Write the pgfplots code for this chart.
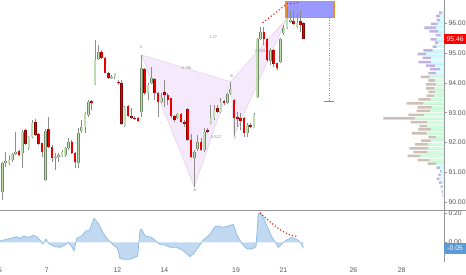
\documentclass[border=0pt]{standalone}
\usepackage{pgfplots}
\pgfplotsset{compat=1.18}
\usepackage{pgfplotstable}
\usepackage{fontspec}
\setmainfont{Liberation Sans}

\definecolor{gfill}{RGB}{190,222,176}
\definecolor{gline}{RGB}{115,135,105}
\definecolor{rfill}{RGB}{235,0,0}
\definecolor{rline}{RGB}{130,0,0}
\definecolor{wick}{RGB}{140,140,140}
\definecolor{lav}{RGB}{244,234,252}
\definecolor{boxfill}{RGB}{153,153,255}
\definecolor{boxline}{RGB}{240,140,40}
\definecolor{vcyan}{RGB}{204,255,255}
\definecolor{vpurp}{RGB}{190,178,225}
\definecolor{vgreen}{RGB}{204,255,221}
\definecolor{vtan}{RGB}{205,192,182}
\definecolor{oscfill}{RGB}{192,216,240}
\definecolor{oscline}{RGB}{140,185,230}
\definecolor{axgray}{RGB}{150,150,150}
\definecolor{txtgray}{RGB}{85,85,85}
\definecolor{tagblue}{RGB}{91,155,213}

\pgfplotstableread{
x o h l c
2.3 90.35 91.36 90.07 91.30
5.6 91.30 91.69 91.19 91.38
8.9 91.32 91.58 91.24 91.41
12.2 91.41 91.64 91.36 91.60
15.5 91.60 92.36 91.58 91.69
18.9 91.71 91.75 91.55 91.58
22.2 91.64 92.42 91.13 92.36
25.5 92.42 92.44 91.92 91.95
28.8 91.80 92.22 91.75 92.19
32.1 92.17 92.75 92.14 92.66
35.4 92.70 92.78 92.22 92.25
38.7 92.27 92.31 91.92 91.95
42.0 91.97 91.99 91.52 91.69
45.3 90.74 92.44 90.72 92.40
48.6 92.45 92.85 91.81 91.84
52.0 91.86 91.92 91.36 91.49
55.3 91.47 91.64 91.08 91.52
58.6 91.50 91.64 91.36 91.58
61.9 91.55 91.75 91.50 91.68
65.2 91.58 91.86 91.52 91.80
68.5 91.80 92.14 91.75 92.02
71.8 92.02 92.08 91.61 91.64
75.1 91.64 91.69 91.13 91.33
78.4 91.32 92.48 91.13 92.31
81.7 92.39 92.75 92.31 92.53
85.1 92.53 93.03 92.31 92.98
88.4 92.92 93.43 92.87 93.37
91.7 93.39 93.43 93.09 93.31
95.0 93.96 95.44 93.93 94.77
98.3 94.79 95.27 94.77 95.05
101.6 95.05 95.10 94.79 94.83
104.9 94.83 94.86 94.32 94.34
108.2 94.34 94.38 94.13 94.17
111.5 94.15 94.27 94.12 94.21
114.8 94.19 94.34 94.12 94.32
118.2 94.04 94.10 93.93 93.99
121.5 93.99 94.10 92.59 92.62
124.8 92.56 93.23 92.53 93.18
128.1 93.22 93.26 92.85 92.89
131.4 92.89 93.15 92.78 92.81
134.7 92.83 92.89 92.75 92.78
138.0 92.81 92.85 92.70 92.73
141.3 93.03 94.94 92.85 94.49
144.6 94.46 94.49 93.59 93.65
147.9 93.65 93.99 93.43 93.93
151.3 93.99 94.54 93.96 94.17
154.6 94.12 94.15 93.43 93.65
157.9 93.65 93.70 92.87 93.37
161.2 93.35 93.65 93.32 93.48
164.5 93.70 94.10 93.20 93.59
167.8 93.59 93.65 93.26 93.43
171.1 93.48 93.50 92.81 92.89
174.4 92.89 92.92 92.70 92.75
177.7 92.81 92.98 92.78 92.95
181.0 92.96 92.98 92.66 92.70
184.4 92.70 92.75 92.53 92.62
187.7 93.11 93.15 92.06 92.08
191.0 92.08 92.28 91.49 91.52
194.3 91.47 91.75 90.52 91.69
197.6 91.78 92.25 91.72 92.02
200.9 92.02 92.14 91.72 91.75
204.2 91.75 92.50 91.69 92.36
207.5 92.42 92.48 92.31 92.34
210.8 92.66 93.26 92.62 92.81
214.1 92.81 93.25 92.75 93.09
217.5 93.17 93.26 92.98 93.03
220.8 93.03 93.48 93.00 93.37
224.1 93.39 93.43 93.26 93.31
227.4 93.34 93.65 93.29 93.63
230.7 93.65 94.04 93.59 93.79
234.0 93.43 93.45 92.22 92.83
237.3 92.85 93.03 92.53 92.79
240.6 92.81 92.98 92.42 92.73
243.9 92.81 92.87 92.20 92.33
247.2 92.31 92.64 92.20 92.59
250.6 92.59 92.64 92.48 92.53
253.9 92.50 92.98 92.48 92.92
257.2 93.52 95.50 93.48 95.46
260.5 95.46 95.89 95.44 95.72
263.8 95.72 95.89 95.27 95.46
267.1 95.46 95.50 94.71 94.77
270.4 94.73 95.16 94.60 95.10
273.7 95.10 95.13 94.54 94.62
277.0 94.66 94.68 94.43 94.49
280.3 94.71 95.50 94.66 95.46
283.7 95.66 95.94 95.61 95.83
287.0 95.83 96.56 95.80 96.17
290.3 96.05 96.45 96.00 96.11
293.6 96.09 96.45 95.94 95.98
296.9 95.89 96.34 95.83 96.02
300.2 96.09 96.45 95.72 95.94
303.5 96.00 96.05 95.46 95.46
}\candles

\pgfplotstableread{
p L D
96.36 2.3 2.7
96.25 4 4
96.11 4 3.3
95.98 6.3 6.7
95.85 8 11.7
95.73 5.7 9
95.60 3.3 5
95.46 7.3 6
95.35 5.7 3.3
95.22 7.3 4
95.09 11.3 9.3
94.97 18 8.3
94.84 13 8.3
94.70 13 12.7
94.58 9 9
94.46 4 10
94.33 8 7.7
91.16 4 3.3
91.04 2.3 1.7
90.91 3.3 2.3
90.78 4.7 2.7
90.65 2.3 2.7
90.52 1.7 1.7
90.35 1.3 1
90.23 1 0.7
}\volout

\pgfplotstableread{
p L D
94.20 14 9.3
94.08 9 6.7
93.95 8 10
93.82 9.7 8.3
93.70 9 6.7
93.57 10 7.3
93.45 13.3 12.3
93.31 20.7 16.7
93.18 12.3 14
93.06 14 13.3
92.93 20 15.7
92.81 29 31.7
92.68 16.7 16.7
92.55 17.3 7.3
92.44 13 12.7
92.31 17.3 15
92.18 8 7.7
92.06 13.3 9.7
91.94 15.7 13.3
91.80 15.7 19
91.68 16.7 14
91.55 24 12.3
91.41 14.7 11.7
91.29 8 8.3
}\volin

\pgfplotstableread{
x v
0 0.010
6.7 0.022
15 0.035
16.7 0.039
20 0.028
23.3 0.044
28.3 0.035
33.3 0.049
36.7 0.039
40 0.017
42.7 -0.010
46 0.022
49.3 -0.010
55 -0.028
60 -0.033
65 -0.017
68.3 -0.001
71.7 -0.028
74 -0.056
76.7 0.028
81.7 0.044
86 0.080
89.3 0.080
94 0.164
98.3 0.130
103.3 0.062
108.3 0.017
113.3 -0.017
117.3 -0.039
120 -0.107
124 -0.114
130 -0.114
135 -0.100
137.7 -0.092
140 0.085
141.7 0.089
145 0.044
151.7 0.035
156.7 0.005
160 -0.014
165 -0.017
170 -0.033
176.7 -0.033
183.3 -0.056
190 -0.096
193.3 -0.078
198.3 -0.033
203.3 0.017
209.3 0.051
215 0.107
218.3 0.112
222.7 0.103
228.3 0.112
233.3 0.123
237.3 0.044
241.7 -0.005
246.7 -0.042
251.7 -0.046
256 -0.028
258.3 0.198
261.7 0.193
266.7 0.119
271.7 0.039
276 -0.005
278.3 -0.033
282.7 -0.005
286.7 0.017
291.7 0.035
296.7 0.022
300.7 -0.001
303.3 -0.039
}\osc

\begin{document}
\begin{tikzpicture}[x=1pt,y=1pt,
  lbl/.style={font=\fontsize{4}{4}\selectfont, text=black!45}]
\useasboundingbox (0,0) rectangle (466,275);

% volume profile
\begin{axis}[at={(0pt,65pt)}, anchor=south west, scale only axis,
  width=444pt, height=210pt, xmin=0, xmax=444, x dir=reverse,
  ymin=89.735, ymax=96.782, hide axis, xbar, bar width=0.085, bar shift=0pt]
\addplot[fill=vpurp, draw=none] table[x expr=\thisrow{L}+\thisrow{D}, y=p] \volout;
\addplot[fill=vcyan, draw=none] table[x=L, y=p] \volout;
\addplot[fill=vtan, draw=none] table[x expr=\thisrow{L}+\thisrow{D}, y=p] \volin;
\addplot[fill=vgreen, draw=none] table[x=L, y=p] \volin;
\end{axis}

% main price panel
\begin{axis}[at={(0pt,65pt)}, anchor=south west, scale only axis,
  width=444pt, height=210pt, xmin=0, xmax=444,
  ymin=89.735, ymax=96.782,
  axis line style={draw=none}, xtick=\empty,
  ytick={90,91,92,93,94,95,96}, ytick pos=right, yticklabel pos=right,
  tick align=outside, major tick length=2.5pt,
  tick style={axgray, line width=0.5pt},
  /pgf/number format/assume math mode=true,
  yticklabel style={font=\fontsize{6.8}{8}\selectfont, text=txtgray, xshift=-1.5pt,
     /pgf/number format/.cd, fixed, fixed zerofill, precision=2}]
% harmonic pattern
\addplot[fill=lav, draw=lav!80!violet, line width=0.3pt] coordinates {(141.3,94.94) (194.3,90.52) (230.7,94.04)} -- cycle;
\addplot[fill=lav, draw=lav!80!violet, line width=0.3pt] coordinates {(230.7,94.04) (234.0,92.22) (287,96.17)} -- cycle;
% target box
\addplot[fill=boxfill, draw=boxline, line width=1.1pt] coordinates {(286,96.18) (334,96.18) (334,96.72) (286,96.72)} -- cycle;
\addplot[black!45, line width=0.6pt, dash pattern=on 1pt off 1.5pt] coordinates {(329,96.18) (329,93.37)};
\addplot[black!45, line width=0.6pt] coordinates {(324,93.37) (334,93.37)};
% wicks
\addplot[draw=none, mark=none, error bars/.cd, y dir=plus, y explicit, error mark=none,
  error bar style={draw=wick, line width=0.7pt}]
  table[x=x, y=l, y error expr=\thisrow{h}-\thisrow{l}] \candles;
% green bodies
\addplot[draw=none, mark=none, restrict expr to domain={\thisrow{c}-\thisrow{o}}{0:100},
  error bars/.cd, y dir=plus, y explicit, error mark=none,
  error bar style={draw=gline, line width=2.6pt}]
  table[x=x, y=o, y error expr=\thisrow{c}-\thisrow{o}] \candles;
\addplot[draw=none, mark=none, restrict expr to domain={\thisrow{c}-\thisrow{o}}{0:100},
  error bars/.cd, y dir=plus, y explicit, error mark=none,
  error bar style={draw=gfill, line width=1.6pt}]
  table[x=x, y=o, y error expr=\thisrow{c}-\thisrow{o}] \candles;
% red bodies
\addplot[draw=none, mark=none, restrict expr to domain={\thisrow{o}-\thisrow{c}}{0.00001:100},
  error bars/.cd, y dir=plus, y explicit, error mark=none,
  error bar style={draw=rline, line width=2.6pt}]
  table[x=x, y=c, y error expr=\thisrow{o}-\thisrow{c}] \candles;
\addplot[draw=none, mark=none, restrict expr to domain={\thisrow{o}-\thisrow{c}}{0.00001:100},
  error bars/.cd, y dir=plus, y explicit, error mark=none,
  error bar style={draw=rfill, line width=1.8pt}]
  table[x=x, y=c, y error expr=\thisrow{o}-\thisrow{c}] \candles;
% red dotted trend
\addplot[red, line width=1.1pt, dash pattern=on 1.1pt off 2.3pt] coordinates {(262.7,96.02) (287,96.65) (298,96.69)};
% labels
\node[lbl] at (axis cs:141,95.19) {X};
\node[lbl] at (axis cs:195,90.41) {A};
\node[lbl] at (axis cs:231.7,94.24) {B};
\node[lbl] at (axis cs:235,92.14) {C};
\node[lbl] at (axis cs:186.7,94.49) {0.786};
\node[lbl] at (axis cs:213.3,95.55) {1.27};
\node[lbl] at (axis cs:260,95.08) {2.183};
\node[lbl] at (axis cs:216,92.17) {0.512};
\end{axis}

% oscillator panel
\begin{axis}[at={(0pt,13pt)}, anchor=south west, scale only axis,
  width=444pt, height=52pt, xmin=0, xmax=444,
  ymin=-0.1322, ymax=0.2203,
  axis line style={draw=none},
  xtick={0,46.7,117.3,164.3,236,283.3,353.3,401.7},
  xticklabels={5,7,12,14,19,21,26,28},
  xtick style={draw=none},
  xticklabel style={font=\fontsize{6.8}{8}\selectfont, text=txtgray},
  ytick={0,0.2}, ytick pos=right, yticklabel pos=right,
  tick align=outside, major tick length=2.5pt,
  ytick style={axgray, line width=0.5pt},
  /pgf/number format/assume math mode=true,
  yticklabel style={font=\fontsize{6.8}{8}\selectfont, text=txtgray, xshift=-1.5pt,
     /pgf/number format/.cd, fixed, fixed zerofill, precision=2}]
\addplot[fill=oscfill, draw=none] table[x=x, y=v] \osc \closedcycle;
\addplot[oscline, line width=0.7pt] table[x=x, y=v] \osc;
\addplot[red, line width=1.1pt, dash pattern=on 1.1pt off 2.2pt] coordinates {(260,0.202) (263.3,0.180) (270,0.141) (276.7,0.103) (283.3,0.073) (290,0.051) (298.3,0.039)};
\end{axis}

\draw[axgray, line width=0.7pt] (0,65) -- (466,65);
\draw[axgray, line width=0.7pt] (444,13) -- (444,275);
\node[fill=red, text=white, inner sep=0pt, minimum width=22pt, minimum height=10pt, anchor=west, font=\fontsize{6.8}{8}\selectfont] at (444,236) {95.46};
\node[fill=tagblue, text=white, inner sep=0pt, minimum width=22pt, minimum height=10.5pt, anchor=west, font=\fontsize{6.8}{8}\selectfont] at (444,26.5) {-0.05};
\end{tikzpicture}
\end{document}
